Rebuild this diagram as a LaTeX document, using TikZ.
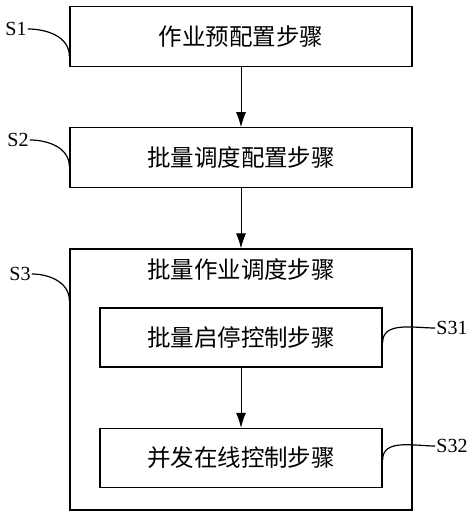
\documentclass[tikz,border=0pt]{standalone}
\usepackage{fontspec}
\setmainfont{Liberation Serif}
\newfontfamily\cjk{Noto Sans CJK SC}
\usepackage{tikz}
\usetikzlibrary{arrows.meta,positioning}

\begin{document}
\begin{tikzpicture}[
            x = 1pt, y = 1pt, % picture units
            > = {Latex[length=15pt,width=10pt]}, % arrow head style
            stepbox/.style = {draw, line width=1.3pt, inner sep=0pt,
                minimum height=60pt, font=\cjk\fontsize{23.5}{25}\selectfont},
            outer/.style = {stepbox, minimum width=342pt},
            inner/.style = {stepbox, minimum width=282pt, minimum height=59pt},
            tag/.style = {font=\fontsize{20}{22}\selectfont, inner sep=1pt},
            lead/.style = {line width=1.2pt},
            flow/.style = {->, line width=0.9pt}
        ]
	\useasboundingbox (0,0) rectangle (474,-515);

	% main steps
	\node[outer] (s1) at (241,-36.5) {作业预配置步骤};
	\node[outer] (s2) [below=60pt of s1] {批量调度配置步骤};
	\node[outer, minimum height=261pt] (s3) [below=60pt of s2] {};
	\node[font=\cjk\fontsize{23.5}{25}\selectfont] (t3) at ([yshift=-21pt]s3.north) {批量作业调度步骤};

	% sub steps
	\node[inner] (s31) [below=59pt of s3.north] {批量启停控制步骤};
	\node[inner] (s32) [below=60pt of s31] {并发在线控制步骤};

	\draw[flow] (s1) -- (s2);
	\draw[flow] (s2) -- (s3);
	\draw[flow] (s31) -- (s32);

	% step tags
	\node[tag] (l1) at (16,-29) {S1};
	\node[tag] (l2) at (18,-140) {S2};
	\node[tag] (l3) at (20,-274) {S3};
	\node[tag] (l31) at (452,-328) {S31};
	\node[tag] (l32) at (452,-446) {S32};

	\draw[lead] (l1.east) to[out=0,in=90] ([yshift=11pt]s1.south west);
	\draw[lead] (l2.east) to[out=0,in=90] ([yshift=22pt]s2.south west);
	\draw[lead] (l3.east) to[out=0,in=90] ([yshift=-52pt]s3.north west);
	\draw[lead] (l31.west) to[out=180,in=90] ([yshift=-35pt]s31.north east);
	\draw[lead] (l32.west) to[out=180,in=90] ([yshift=-32pt]s32.north east);
\end{tikzpicture}
\end{document}
